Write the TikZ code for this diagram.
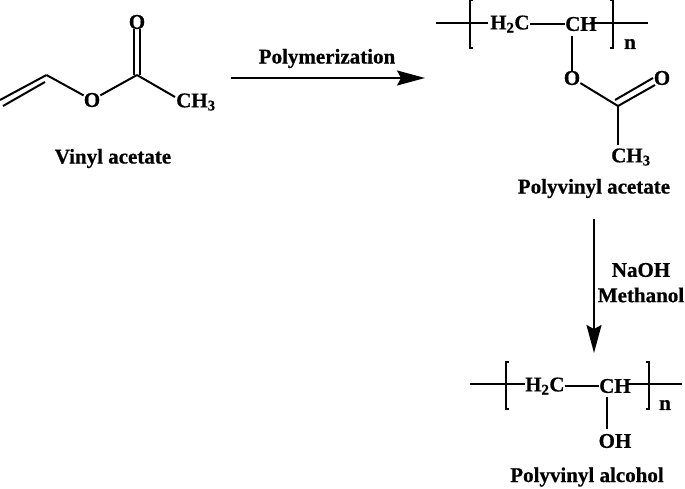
\documentclass[tikz,border=0pt]{standalone}
\usepackage{fontspec}
\setmainfont[BoldFeatures={FakeBold=0.6}]{Liberation Serif}
\usetikzlibrary{arrows.meta, positioning}
\tikzset{
  atom/.style={font=\fontsize{21}{25}\selectfont\bfseries, inner sep=0pt},
  caption/.style={font=\fontsize{21}{25}\selectfont\bfseries, inner sep=0pt},
  bond/.style={line width=2pt},
  thinbond/.style={line width=1.6pt},
  bracket/.style={line width=1.8pt},
  rxn/.style={line width=1.8pt, -{Stealth[length=28pt, width=15pt, inset=4pt]}}
}
\newcommand{\htwoc}{H\textsubscript{2}C}
\newcommand{\chthree}{CH\textsubscript{3}}

\begin{document}
\begin{tikzpicture}[x=1pt, y=-1pt]
\useasboundingbox (0,0) rectangle (685,489);

% Vinyl acetate
\coordinate (va_end) at (0,100);
\coordinate (va_end2) at (3,106);
\coordinate (va_ch) at (46.5,75);
\coordinate (va_ch2) at (45,82);
\coordinate (va_c) at (137,75);
\coordinate (va_cl) at (134,75);
\coordinate (va_cr) at (140,75);
\node[atom] (va_o) at (92,100) {O};
\node[atom] (va_dbl) at (137,22) {O};
\node[atom, anchor=west] (va_me) at (176,102) {\chthree};
\coordinate (va_mebond) at (175,97);
\draw[bond] (va_end) -- (va_ch);
\draw[bond] (va_end2) -- (va_ch2);
\draw[bond] (va_ch) -- (va_o);
\draw[bond] (va_o) -- (va_c);
\draw[bond] (va_cl) -- (va_cl |- va_dbl.south);
\draw[bond] (va_cr) -- (va_cr |- va_dbl.south);
\draw[bond] (va_c) -- (va_mebond);
\node[caption] (va_name) at (113,158.5) {Vinyl acetate};

% Polymerization arrow
\coordinate (rx1_a) at (231,78);
\coordinate (rx1_b) at (425,78);
\draw[rxn] (rx1_a) -- (rx1_b);
\node[caption] (rx1_label) at (327,58.5) {Polymerization};

% Polyvinyl acetate
\coordinate (pa_l) at (436,23);
\coordinate (pa_r) at (648,23);
\node[atom, anchor=west] (pa_h2c) at (490,24) {\htwoc};
\node[atom, anchor=west] (pa_ch) at (565,24) {CH};
\node[atom] (pa_o) at (572,78) {O};
\node[atom] (pa_dbl) at (662,78) {O};
\node[atom, anchor=west] (pa_me) at (611,157) {\chthree};
\node[atom] (pa_n) at (630,44) {n};
\coordinate (pa_c1) at (615,100);
\coordinate (pa_c2) at (618,106);
\coordinate (pa_o1) at (653,78);
\coordinate (pa_o2) at (655,85);
\coordinate (pa_mebond) at (618,145);
\coordinate (pa_chtop) at (572,36);
\coordinate (pa_chbond) at (590,23);
\coordinate (pa_h2cbond) at (488,23);
\draw[bond] (pa_l) -- (pa_h2cbond);
\draw[bond] (pa_h2c.east) -- (pa_ch.west);
\draw[bond] (pa_chbond) -- (pa_r);
\draw[thinbond] (pa_chtop) -- (pa_o);
\draw[bond] (pa_o) -- (pa_c2);
\draw[bond] (pa_c1) -- (pa_o1);
\draw[bond] (pa_c2) -- (pa_o2);
\draw[thinbond] (pa_c2) -- (pa_mebond);
\draw[bracket] (473,0) -- (470,0) -- (470,48) -- (473,48);
\draw[bracket] (610,0) -- (613,0) -- (613,48) -- (610,48);
\node[caption] (pa_name) at (594,188.5) {Polyvinyl acetate};

% Hydrolysis arrow
\coordinate (rx2_a) at (594,219);
\coordinate (rx2_b) at (594,353);
\draw[rxn] (rx2_a) -- (rx2_b);
\node[caption] (rx2_top) at (641,270) {NaOH};
\node[caption] (rx2_bot) at (641,295) {Methanol};

% Polyvinyl alcohol
\coordinate (pv_l) at (470,384);
\coordinate (pv_r) at (682,384);
\node[atom, anchor=west] (pv_h2c) at (525,386) {\htwoc};
\node[atom, anchor=west] (pv_ch) at (599,386) {CH};
\node[atom] (pv_oh) at (615,441) {OH};
\node[atom] (pv_n) at (665,405) {n};
\coordinate (pv_h2cbond) at (525,384);
\coordinate (pv_chbond) at (628,384);
\coordinate (pv_top) at (607,397);
\coordinate (pv_bot) at (607,429);
\draw[bond] (pv_l) -- (pv_h2cbond);
\draw[bond] (pv_h2c.east) -- (pv_ch.west);
\draw[bond] (pv_chbond) -- (pv_r);
\draw[thinbond] (pv_top) -- (pv_bot);
\draw[bracket] (509,362) -- (506,362) -- (506,409) -- (509,409);
\draw[bracket] (646,362) -- (649,362) -- (649,409) -- (646,409);
\node[caption] (pv_name) at (587,477) {Polyvinyl alcohol};
\end{tikzpicture}
\end{document}
